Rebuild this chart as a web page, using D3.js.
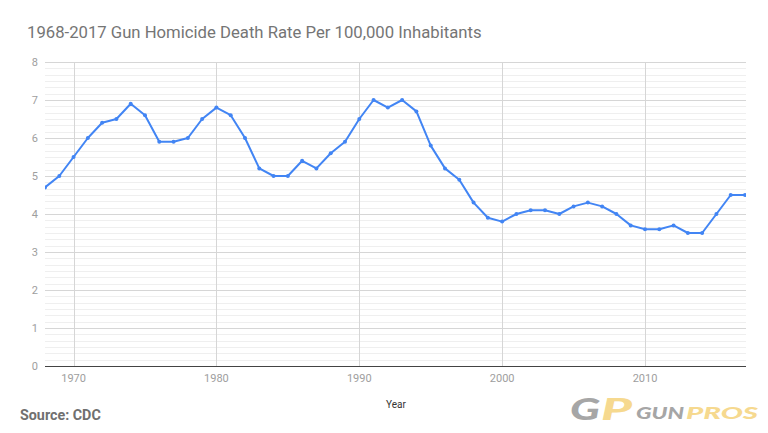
<!DOCTYPE html>
<html>
<head>
<meta charset="utf-8">
<script src="https://cdn.jsdelivr.net/npm/d3@7"></script>
<style>
  body { margin: 0; background: #fff; }
  svg { display: block; font-family: Roboto, "Noto Sans", sans-serif; }
</style>
</head>
<body>
<svg id="chart" width="768" height="433"></svg>
<script>
// data
const years = d3.range(1968, 2018);
const rates = [
  4.7, 5.0, 5.5, 6.0, 6.4, 6.5, 6.9, 6.6, 5.9, 5.9,
  6.0, 6.5, 6.8, 6.6, 6.0, 5.2, 5.0, 5.0, 5.4, 5.2,
  5.6, 5.9, 6.5, 7.0, 6.8, 7.0, 6.7, 5.8, 5.2, 4.9,
  4.3, 3.9, 3.8, 4.0, 4.1, 4.1, 4.0, 4.2, 4.3, 4.2,
  4.0, 3.7, 3.6, 3.6, 3.7, 3.5, 3.5, 4.0, 4.5, 4.5
];
const xTicks = [1970, 1980, 1990, 2000, 2010];
const yTicks = [0, 1, 2, 3, 4, 5, 6, 7, 8];

const data = years.map((y, i) => ({ year: y, rate: rates[i] }));

const svg = d3.select("#chart");
const plot = { left: 45, right: 746, top: 62, bottom: 366 };

const x = d3.scaleLinear().domain([1968, 2017]).range([plot.left, plot.right - 1]);
const y = d3.scaleLinear().domain([0, 8]).range([plot.bottom, plot.top]);

// minor gridlines (5 between each major)
const minor = d3.range(0, 8 * 6 + 1).map(i => i / 6).filter(v => Math.abs(v - Math.round(v)) > 0.01);
svg.append("g")
  .selectAll("line")
  .data(minor)
  .join("line")
  .attr("x1", plot.left).attr("x2", plot.right)
  .attr("y1", d => Math.round(y(d)) + 0.5).attr("y2", d => Math.round(y(d)) + 0.5)
  .attr("stroke", "#efefef");

// major gridlines
svg.append("g")
  .selectAll("line")
  .data(yTicks.slice(1))
  .join("line")
  .attr("x1", plot.left).attr("x2", plot.right)
  .attr("y1", d => Math.round(y(d)) + 0.5).attr("y2", d => Math.round(y(d)) + 0.5)
  .attr("stroke", "#d6d6d6");

// vertical gridlines
svg.append("g")
  .selectAll("line")
  .data(xTicks)
  .join("line")
  .attr("x1", d => Math.round(x(d)) + 0.5).attr("x2", d => Math.round(x(d)) + 0.5)
  .attr("y1", plot.top).attr("y2", plot.bottom)
  .attr("stroke", "#d6d6d6");

// baseline
svg.append("line")
  .attr("x1", plot.left).attr("x2", plot.right)
  .attr("y1", plot.bottom + 0.5).attr("y2", plot.bottom + 0.5)
  .attr("stroke", "#444");

// y labels
svg.append("g")
  .selectAll("text")
  .data(yTicks)
  .join("text")
  .attr("x", 38)
  .attr("y", d => y(d) + 4)
  .attr("text-anchor", "end")
  .attr("font-size", 11)
  .attr("fill", "#9e9e9e")
  .text(d => d);

// x labels
svg.append("g")
  .selectAll("text")
  .data(xTicks)
  .join("text")
  .attr("x", d => x(d))
  .attr("y", 382)
  .attr("text-anchor", "middle")
  .attr("font-size", 11)
  .attr("fill", "#9e9e9e")
  .text(d => d);

svg.append("clipPath").attr("id", "clip")
  .append("rect")
  .attr("x", plot.left).attr("y", plot.top - 5)
  .attr("width", plot.right - plot.left).attr("height", plot.bottom - plot.top + 10);

const line = d3.line().x(d => x(d.year)).y(d => y(d.rate));

const g = svg.append("g").attr("clip-path", "url(#clip)");
g.append("path")
  .datum(data)
  .attr("fill", "none")
  .attr("stroke", "#4285F4")
  .attr("stroke-width", 2)
  .attr("stroke-linejoin", "round")
  .attr("d", line);

g.selectAll("circle")
  .data(data)
  .join("circle")
  .attr("cx", d => x(d.year))
  .attr("cy", d => y(d.rate))
  .attr("r", 2)
  .attr("fill", "#4285F4");

// title
svg.append("text")
  .attr("x", 27).attr("y", 38)
  .attr("font-size", 16.7)
  .attr("fill", "#757575")
  .text("1968-2017 Gun Homicide Death Rate Per 100,000 Inhabitants");

// axis title
svg.append("text")
  .attr("x", 396).attr("y", 408)
  .attr("text-anchor", "middle")
  .attr("font-size", 10)
  .attr("fill", "#333")
  .text("Year");

// source
svg.append("text")
  .attr("x", 20).attr("y", 420)
  .attr("font-size", 14.3)
  .attr("font-weight", "bold")
  .attr("fill", "#707070")
  .text("Source: CDC");

// logo
const logoFont = "Lato, Roboto, sans-serif";
svg.append("text")
  .attr("x", 570).attr("y", 420)
  .attr("font-family", logoFont).attr("font-style", "italic").attr("font-weight", 900)
  .attr("font-size", 30).attr("fill", "#a6a6a6")
  .attr("textLength", 30).attr("lengthAdjust", "spacingAndGlyphs")
  .text("G");
svg.append("text")
  .attr("x", 601).attr("y", 420)
  .attr("font-family", logoFont).attr("font-style", "italic").attr("font-weight", 900)
  .attr("font-size", 30).attr("fill", "#f6d98f")
  .attr("textLength", 31).attr("lengthAdjust", "spacingAndGlyphs")
  .text("P");
svg.append("text")
  .attr("x", 636).attr("y", 419)
  .attr("font-family", logoFont).attr("font-style", "italic").attr("font-weight", 900)
  .attr("font-size", 16).attr("fill", "#a6a6a6")
  .attr("textLength", 48).attr("lengthAdjust", "spacingAndGlyphs")
  .text("GUN");
svg.append("text")
  .attr("x", 686).attr("y", 419)
  .attr("font-family", logoFont).attr("font-style", "italic").attr("font-weight", 900)
  .attr("font-size", 16).attr("fill", "#f6d98f")
  .attr("textLength", 72).attr("lengthAdjust", "spacingAndGlyphs")
  .text("PROS");
</script>
</body>
</html>
